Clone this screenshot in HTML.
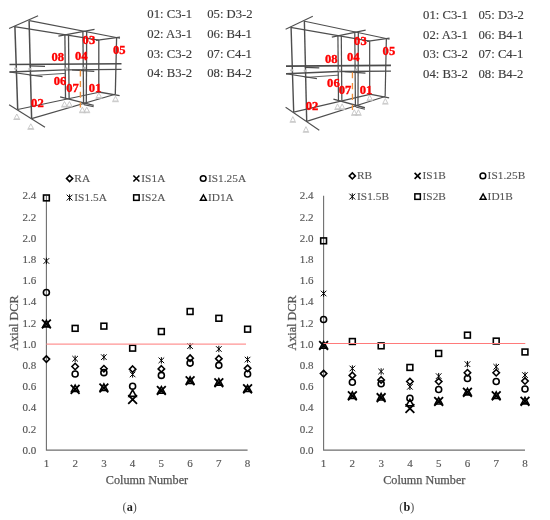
<!DOCTYPE html>
<html><head><meta charset="utf-8"><style>
html,body{margin:0;padding:0;background:#fff;}
body{width:550px;height:520px;overflow:hidden;}
svg{display:block;}
.t{font-family:'Liberation Serif', serif;font-size:11px;fill:#555555;stroke:#555555;stroke-width:0.15px;}
.lg{font-family:'Liberation Serif', serif;font-size:11.3px;fill:#555555;stroke:#555555;stroke-width:0.12px;letter-spacing:0.05px;}
.at{font-family:'Liberation Serif', serif;font-size:12.2px;fill:#555555;stroke:#555555;stroke-width:0.25px;}
.cap{font-family:'Liberation Serif', serif;font-size:12.2px;fill:#555;}
.tl{font-family:'Liberation Serif', serif;font-size:12.7px;fill:#3c3c3c;stroke:#3c3c3c;stroke-width:0.15px;letter-spacing:0px;}
.rl{font-family:'Liberation Serif', serif;font-size:12.6px;font-weight:bold;fill:#ff0000;stroke:#ff0000;stroke-width:0.35px;}
</style></head><body>
<svg width="550" height="520" viewBox="0 0 550 520">
<rect width="550" height="520" fill="#fff"/>
<g id="fa">
<path d="M9.1 28.5L38.1 15.8" stroke="#4e4e4e" stroke-width="1.15" fill="none"/>
<path d="M29.4 20.6L120.0 38.3" stroke="#4e4e4e" stroke-width="1.15" fill="none"/>
<path d="M14.3 26.6L98.8 40.1" stroke="#4e4e4e" stroke-width="1.15" fill="none"/>
<path d="M58.4 36.2L94.5 29.4" stroke="#4e4e4e" stroke-width="1.3" fill="none"/>
<path d="M96.0 40.4L120.0 37.2" stroke="#4e4e4e" stroke-width="1.3" fill="none"/>
<path d="M14.9 26.6L17.7 109.5" stroke="#4e4e4e" stroke-width="1.5" fill="none"/>
<path d="M29.1 20.4L31.6 118.6" stroke="#4e4e4e" stroke-width="1.5" fill="none"/>
<path d="M64.9 34.9L65.5 98.5" stroke="#4e4e4e" stroke-width="1.3" fill="none"/>
<path d="M68.5 34.5L69.1 98.0" stroke="#4e4e4e" stroke-width="1.3" fill="none"/>
<path d="M82.9 31.0L83.6 104.5" stroke="#4e4e4e" stroke-width="1.3" fill="none"/>
<path d="M86.7 31.0L86.3 103.5" stroke="#4e4e4e" stroke-width="1.3" fill="none"/>
<path d="M98.8 40.1L98.8 93.0" stroke="#4e4e4e" stroke-width="1.3" fill="none"/>
<path d="M116.6 37.7L115.3 94.3" stroke="#4e4e4e" stroke-width="1.3" fill="none"/>
<path d="M9.5 72.0L65.0 69.8" stroke="#4e4e4e" stroke-width="1.3" fill="none"/>
<path d="M65.0 69.8L121.5 69.4" stroke="#4e4e4e" stroke-width="1.3" fill="none"/>
<path d="M9.5 72.0L42.5 76.7" stroke="#4e4e4e" stroke-width="1.2" fill="none"/>
<path d="M29.5 75.7L65.0 73.4" stroke="#4e4e4e" stroke-width="0.9" fill="none"/>
<path d="M9.1 104.7L45.0 127.2" stroke="#4e4e4e" stroke-width="1.15" fill="none"/>
<path d="M17.7 109.5L99.0 92.2" stroke="#4e4e4e" stroke-width="1.15" fill="none"/>
<path d="M31.6 118.6L115.3 94.3" stroke="#4e4e4e" stroke-width="1.15" fill="none"/>
<path d="M98.8 92.0L119.6 95.6" stroke="#4e4e4e" stroke-width="1.3" fill="none"/>
<path d="M60.1 96.9L93.7 105.3" stroke="#4e4e4e" stroke-width="1.3" fill="none"/>
<path d="M84.0 104.6L93.7 106.8" stroke="#4e4e4e" stroke-width="1.1" fill="none"/>
<path d="M9.5 64.5L121.5 63.8" stroke="#4a4a4a" stroke-width="1.6" fill="none"/>
<path d="M29.5 65.8L45.0 66.3" stroke="#4a4a4a" stroke-width="1.2" fill="none"/>
<path d="M72.0 70.0L94.3 71.4" stroke="#4a4a4a" stroke-width="1.15" fill="none"/>
<path d="M16.8 114.0L19.4 118.8L14.2 118.8ZM13.4 119.5H20.2M30.8 123.8L33.4 128.6L28.2 128.6ZM27.4 129.3H34.2M64.5 101.5L67.1 106.3L61.9 106.3ZM61.1 107.0H67.9M69.4 101.5L72.0 106.3L66.8 106.3ZM66.0 107.0H72.8M82.4 107.2L85.0 112.0L79.8 112.0ZM79.0 112.7H85.8M86.8 107.2L89.4 112.0L84.2 112.0ZM83.4 112.7H90.2M98.9 92.8L101.5 97.6L96.3 97.6ZM95.5 98.3H102.3M115.5 96.2L118.1 101.0L112.9 101.0ZM112.1 101.7H118.9" stroke="#c4c4c4" stroke-width="0.9" fill="none"/>
<ellipse cx="15.6" cy="68.6" rx="1.6" ry="1.2" fill="#b8b8b8"/>
<ellipse cx="29.9" cy="69.0" rx="1.6" ry="1.2" fill="#b8b8b8"/>
<ellipse cx="66.5" cy="68.5" rx="1.6" ry="1.2" fill="#b8b8b8"/>
<ellipse cx="84.5" cy="68.0" rx="1.6" ry="1.2" fill="#b8b8b8"/>
<path d="M80.4 70.5V107.6" stroke="#f0903a" stroke-width="1.4" stroke-dasharray="6 4.6" fill="none"/>
</g>
<g transform="matrix(0.937,0,0,1.022,277.1,0.15)">
<path d="M9.1 28.5L38.1 15.8" stroke="#4e4e4e" stroke-width="1.15" fill="none"/>
<path d="M29.4 20.6L120.0 38.3" stroke="#4e4e4e" stroke-width="1.15" fill="none"/>
<path d="M14.3 26.6L98.8 40.1" stroke="#4e4e4e" stroke-width="1.15" fill="none"/>
<path d="M58.4 36.2L94.5 29.4" stroke="#4e4e4e" stroke-width="1.3" fill="none"/>
<path d="M96.0 40.4L120.0 37.2" stroke="#4e4e4e" stroke-width="1.3" fill="none"/>
<path d="M14.9 26.6L17.7 109.5" stroke="#4e4e4e" stroke-width="1.5" fill="none"/>
<path d="M29.1 20.4L31.6 118.6" stroke="#4e4e4e" stroke-width="1.5" fill="none"/>
<path d="M64.9 34.9L65.5 98.5" stroke="#4e4e4e" stroke-width="1.3" fill="none"/>
<path d="M68.5 34.5L69.1 98.0" stroke="#4e4e4e" stroke-width="1.3" fill="none"/>
<path d="M82.9 31.0L83.6 104.5" stroke="#4e4e4e" stroke-width="1.3" fill="none"/>
<path d="M86.7 31.0L86.3 103.5" stroke="#4e4e4e" stroke-width="1.3" fill="none"/>
<path d="M98.8 40.1L98.8 93.0" stroke="#4e4e4e" stroke-width="1.3" fill="none"/>
<path d="M116.6 37.7L115.3 94.3" stroke="#4e4e4e" stroke-width="1.3" fill="none"/>
<path d="M9.5 72.0L65.0 69.8" stroke="#4e4e4e" stroke-width="1.3" fill="none"/>
<path d="M65.0 69.8L121.5 69.4" stroke="#4e4e4e" stroke-width="1.3" fill="none"/>
<path d="M9.5 72.0L42.5 76.7" stroke="#4e4e4e" stroke-width="1.2" fill="none"/>
<path d="M29.5 75.7L65.0 73.4" stroke="#4e4e4e" stroke-width="0.9" fill="none"/>
<path d="M9.1 104.7L45.0 127.2" stroke="#4e4e4e" stroke-width="1.15" fill="none"/>
<path d="M17.7 109.5L99.0 92.2" stroke="#4e4e4e" stroke-width="1.15" fill="none"/>
<path d="M31.6 118.6L115.3 94.3" stroke="#4e4e4e" stroke-width="1.15" fill="none"/>
<path d="M98.8 92.0L119.6 95.6" stroke="#4e4e4e" stroke-width="1.3" fill="none"/>
<path d="M60.1 96.9L93.7 105.3" stroke="#4e4e4e" stroke-width="1.3" fill="none"/>
<path d="M84.0 104.6L93.7 106.8" stroke="#4e4e4e" stroke-width="1.1" fill="none"/>
<path d="M9.5 64.5L121.5 63.8" stroke="#4a4a4a" stroke-width="1.6" fill="none"/>
<path d="M29.5 65.8L45.0 66.3" stroke="#4a4a4a" stroke-width="1.2" fill="none"/>
<path d="M72.0 70.0L94.3 71.4" stroke="#4a4a4a" stroke-width="1.15" fill="none"/>
<path d="M16.8 114.0L19.4 118.8L14.2 118.8ZM13.4 119.5H20.2M30.8 123.8L33.4 128.6L28.2 128.6ZM27.4 129.3H34.2M64.5 101.5L67.1 106.3L61.9 106.3ZM61.1 107.0H67.9M69.4 101.5L72.0 106.3L66.8 106.3ZM66.0 107.0H72.8M82.4 107.2L85.0 112.0L79.8 112.0ZM79.0 112.7H85.8M86.8 107.2L89.4 112.0L84.2 112.0ZM83.4 112.7H90.2M98.9 92.8L101.5 97.6L96.3 97.6ZM95.5 98.3H102.3M115.5 96.2L118.1 101.0L112.9 101.0ZM112.1 101.7H118.9" stroke="#c4c4c4" stroke-width="0.9" fill="none"/>
<ellipse cx="15.6" cy="68.6" rx="1.6" ry="1.2" fill="#b8b8b8"/>
<ellipse cx="29.9" cy="69.0" rx="1.6" ry="1.2" fill="#b8b8b8"/>
<ellipse cx="66.5" cy="68.5" rx="1.6" ry="1.2" fill="#b8b8b8"/>
<ellipse cx="84.5" cy="68.0" rx="1.6" ry="1.2" fill="#b8b8b8"/>
<path d="M80.4 70.5V107.6" stroke="#f0903a" stroke-width="1.4" stroke-dasharray="6 4.6" fill="none"/>
</g>
<text x="88.9" y="44.1" text-anchor="middle" class="rl">03</text>
<text x="119.3" y="54.1" text-anchor="middle" class="rl">05</text>
<text x="57.8" y="61.4" text-anchor="middle" class="rl">08</text>
<text x="81.2" y="59.7" text-anchor="middle" class="rl">04</text>
<text x="60.1" y="84.6" text-anchor="middle" class="rl">06</text>
<text x="72.5" y="91.5" text-anchor="middle" class="rl">07</text>
<text x="95.0" y="91.5" text-anchor="middle" class="rl">01</text>
<text x="37.4" y="107.3" text-anchor="middle" class="rl">02</text>
<text x="360.4" y="45.1" text-anchor="middle" class="rl">03</text>
<text x="388.9" y="55.4" text-anchor="middle" class="rl">05</text>
<text x="331.3" y="62.8" text-anchor="middle" class="rl">08</text>
<text x="353.2" y="61.1" text-anchor="middle" class="rl">04</text>
<text x="333.4" y="86.5" text-anchor="middle" class="rl">06</text>
<text x="345.0" y="93.6" text-anchor="middle" class="rl">07</text>
<text x="366.1" y="93.6" text-anchor="middle" class="rl">01</text>
<text x="312.1" y="109.7" text-anchor="middle" class="rl">02</text>
<text x="147.30" y="18.30" class="tl">01: C3-1</text>
<text x="207.20" y="18.30" class="tl">05: D3-2</text>
<text x="147.30" y="37.97" class="tl">02: A3-1</text>
<text x="207.20" y="37.97" class="tl">06: B4-1</text>
<text x="147.30" y="57.64" class="tl">03: C3-2</text>
<text x="207.20" y="57.64" class="tl">07: C4-1</text>
<text x="147.30" y="77.31" class="tl">04: B3-2</text>
<text x="207.20" y="77.31" class="tl">08: B4-2</text>
<text x="423.10" y="18.90" class="tl">01: C3-1</text>
<text x="478.50" y="18.90" class="tl">05: D3-2</text>
<text x="423.10" y="38.57" class="tl">02: A3-1</text>
<text x="478.50" y="38.57" class="tl">06: B4-1</text>
<text x="423.10" y="58.24" class="tl">03: C3-2</text>
<text x="478.50" y="58.24" class="tl">07: C4-1</text>
<text x="423.10" y="77.91" class="tl">04: B3-2</text>
<text x="478.50" y="77.91" class="tl">08: B4-2</text>
<text x="36.20" y="453.70" text-anchor="end" class="t">0.0</text>
<text x="36.20" y="432.51" text-anchor="end" class="t">0.2</text>
<text x="36.20" y="411.32" text-anchor="end" class="t">0.4</text>
<text x="36.20" y="390.12" text-anchor="end" class="t">0.6</text>
<text x="36.20" y="368.93" text-anchor="end" class="t">0.8</text>
<text x="36.20" y="347.74" text-anchor="end" class="t">1.0</text>
<text x="36.20" y="326.55" text-anchor="end" class="t">1.2</text>
<text x="36.20" y="305.36" text-anchor="end" class="t">1.4</text>
<text x="36.20" y="284.16" text-anchor="end" class="t">1.6</text>
<text x="36.20" y="262.97" text-anchor="end" class="t">1.8</text>
<text x="36.20" y="241.78" text-anchor="end" class="t">2.0</text>
<text x="36.20" y="220.59" text-anchor="end" class="t">2.2</text>
<text x="36.20" y="199.40" text-anchor="end" class="t">2.4</text>
<text x="46.40" y="466.7" text-anchor="middle" class="t">1</text>
<text x="75.14" y="466.7" text-anchor="middle" class="t">2</text>
<text x="103.88" y="466.7" text-anchor="middle" class="t">3</text>
<text x="132.62" y="466.7" text-anchor="middle" class="t">4</text>
<text x="161.36" y="466.7" text-anchor="middle" class="t">5</text>
<text x="190.10" y="466.7" text-anchor="middle" class="t">6</text>
<text x="218.84" y="466.7" text-anchor="middle" class="t">7</text>
<text x="247.58" y="466.7" text-anchor="middle" class="t">8</text>
<path d="M46.40 195.80V450.6M45.90 450.1H247.58" fill="none" stroke="#6e6e6e" stroke-width="1.1"/>
<text x="146.99" y="484.4" text-anchor="middle" class="at">Column Number</text>
<text transform="translate(17.70,323) rotate(-90)" x="0" y="0" text-anchor="middle" class="at">Axial DCR</text>
<path d="M46.40 355.88L49.60 359.08L46.40 362.28L43.20 359.08Z" fill="none" stroke="#000" stroke-width="1.6"/>
<path d="M42.00 319.61L50.80 328.41M50.80 319.61L42.00 328.41" fill="none" stroke="#000" stroke-width="1.8"/>
<circle cx="46.40" cy="292.54" r="3.0" fill="none" stroke="#000" stroke-width="1.6"/>
<path d="M43.60 258.16L49.20 263.76M49.20 258.16L43.60 263.76M46.40 257.76L46.40 264.16" fill="none" stroke="#000" stroke-width="1.0"/>
<rect x="43.50" y="195.02" width="5.80" height="5.80" fill="none" stroke="#000" stroke-width="1.6"/>
<path d="M46.40 320.41L50.00 326.89L42.80 326.89Z" fill="none" stroke="#000" stroke-width="1.6" stroke-linejoin="miter"/>
<path d="M75.14 363.30L78.34 366.50L75.14 369.70L71.94 366.50Z" fill="none" stroke="#000" stroke-width="1.6"/>
<path d="M70.74 384.98L79.54 393.78M79.54 384.98L70.74 393.78" fill="none" stroke="#000" stroke-width="1.8"/>
<circle cx="75.14" cy="374.02" r="3.0" fill="none" stroke="#000" stroke-width="1.6"/>
<path d="M72.34 355.96L77.94 361.56M77.94 355.96L72.34 361.56M75.14 355.56L75.14 361.96" fill="none" stroke="#000" stroke-width="1.0"/>
<rect x="72.24" y="325.45" width="5.80" height="5.80" fill="none" stroke="#000" stroke-width="1.6"/>
<path d="M75.14 385.04L78.74 391.52L71.54 391.52Z" fill="none" stroke="#000" stroke-width="1.6" stroke-linejoin="miter"/>
<path d="M103.88 365.52L107.08 368.72L103.88 371.92L100.68 368.72Z" fill="none" stroke="#000" stroke-width="1.6"/>
<path d="M99.48 383.61L108.28 392.41M108.28 383.61L99.48 392.41" fill="none" stroke="#000" stroke-width="1.8"/>
<circle cx="103.88" cy="372.64" r="3.0" fill="none" stroke="#000" stroke-width="1.6"/>
<path d="M101.08 354.37L106.68 359.97M106.68 354.37L101.08 359.97M103.88 353.97L103.88 360.37" fill="none" stroke="#000" stroke-width="1.0"/>
<rect x="100.98" y="323.23" width="5.80" height="5.80" fill="none" stroke="#000" stroke-width="1.6"/>
<path d="M103.88 383.98L107.48 390.46L100.28 390.46Z" fill="none" stroke="#000" stroke-width="1.6" stroke-linejoin="miter"/>
<path d="M132.62 365.95L135.82 369.15L132.62 372.35L129.42 369.15Z" fill="none" stroke="#000" stroke-width="1.6"/>
<path d="M128.22 395.05L137.02 403.85M137.02 395.05L128.22 403.85" fill="none" stroke="#000" stroke-width="1.8"/>
<circle cx="132.62" cy="386.21" r="3.0" fill="none" stroke="#000" stroke-width="1.6"/>
<path d="M129.82 371.64L135.42 377.24M135.42 371.64L129.82 377.24M132.62 371.24L132.62 377.64" fill="none" stroke="#000" stroke-width="1.0"/>
<rect x="129.72" y="345.27" width="5.80" height="5.80" fill="none" stroke="#000" stroke-width="1.6"/>
<path d="M132.62 389.92L136.22 396.40L129.02 396.40Z" fill="none" stroke="#000" stroke-width="1.6" stroke-linejoin="miter"/>
<path d="M161.36 365.73L164.56 368.93L161.36 372.13L158.16 368.93Z" fill="none" stroke="#000" stroke-width="1.6"/>
<path d="M156.96 386.15L165.76 394.95M165.76 386.15L156.96 394.95" fill="none" stroke="#000" stroke-width="1.8"/>
<circle cx="161.36" cy="375.40" r="3.0" fill="none" stroke="#000" stroke-width="1.6"/>
<path d="M158.56 357.55L164.16 363.15M164.16 357.55L158.56 363.15M161.36 357.15L161.36 363.55" fill="none" stroke="#000" stroke-width="1.0"/>
<rect x="158.46" y="328.63" width="5.80" height="5.80" fill="none" stroke="#000" stroke-width="1.6"/>
<path d="M161.36 386.63L164.96 393.11L157.76 393.11Z" fill="none" stroke="#000" stroke-width="1.6" stroke-linejoin="miter"/>
<path d="M190.10 354.93L193.30 358.13L190.10 361.33L186.90 358.13Z" fill="none" stroke="#000" stroke-width="1.6"/>
<path d="M185.70 376.40L194.50 385.20M194.50 376.40L185.70 385.20" fill="none" stroke="#000" stroke-width="1.8"/>
<circle cx="190.10" cy="363.11" r="3.0" fill="none" stroke="#000" stroke-width="1.6"/>
<path d="M187.30 343.35L192.90 348.95M192.90 343.35L187.30 348.95M190.10 342.95L190.10 349.35" fill="none" stroke="#000" stroke-width="1.0"/>
<rect x="187.20" y="308.60" width="5.80" height="5.80" fill="none" stroke="#000" stroke-width="1.6"/>
<path d="M190.10 376.88L193.70 383.36L186.50 383.36Z" fill="none" stroke="#000" stroke-width="1.6" stroke-linejoin="miter"/>
<path d="M218.84 355.46L222.04 358.66L218.84 361.86L215.64 358.66Z" fill="none" stroke="#000" stroke-width="1.6"/>
<path d="M214.44 378.31L223.24 387.11M223.24 378.31L214.44 387.11" fill="none" stroke="#000" stroke-width="1.8"/>
<circle cx="218.84" cy="365.33" r="3.0" fill="none" stroke="#000" stroke-width="1.6"/>
<path d="M216.04 346.21L221.64 351.81M221.64 346.21L216.04 351.81M218.84 345.81L218.84 352.21" fill="none" stroke="#000" stroke-width="1.0"/>
<rect x="215.94" y="315.39" width="5.80" height="5.80" fill="none" stroke="#000" stroke-width="1.6"/>
<path d="M218.84 378.69L222.44 385.17L215.24 385.17Z" fill="none" stroke="#000" stroke-width="1.6" stroke-linejoin="miter"/>
<path d="M247.58 365.10L250.78 368.30L247.58 371.50L244.38 368.30Z" fill="none" stroke="#000" stroke-width="1.6"/>
<path d="M243.18 384.46L251.98 393.26M251.98 384.46L243.18 393.26" fill="none" stroke="#000" stroke-width="1.8"/>
<circle cx="247.58" cy="374.02" r="3.0" fill="none" stroke="#000" stroke-width="1.6"/>
<path d="M244.78 356.81L250.38 362.41M250.38 356.81L244.78 362.41M247.58 356.41L247.58 362.81" fill="none" stroke="#000" stroke-width="1.0"/>
<rect x="244.68" y="326.30" width="5.80" height="5.80" fill="none" stroke="#000" stroke-width="1.6"/>
<path d="M247.58 385.04L251.18 391.52L243.98 391.52Z" fill="none" stroke="#000" stroke-width="1.6" stroke-linejoin="miter"/>
<path d="M46.40 344.1H245.98" stroke="#ff9494" stroke-width="1.3" fill="none"/>
<path d="M69.60 175.45L72.65 178.50L69.60 181.55L66.55 178.50Z" fill="none" stroke="#000" stroke-width="1.6"/>
<text x="74.30" y="181.90" class="lg">RA</text>
<path d="M133.40 175.50L139.40 181.50M139.40 175.50L133.40 181.50" fill="none" stroke="#000" stroke-width="1.6"/>
<text x="141.30" y="181.90" class="lg">IS1A</text>
<circle cx="203.20" cy="178.50" r="2.85" fill="none" stroke="#000" stroke-width="1.5"/>
<text x="207.90" y="181.90" class="lg">IS1.25A</text>
<path d="M66.70 194.70L72.50 200.50M72.50 194.70L66.70 200.50M69.60 194.30L69.60 200.90" fill="none" stroke="#000" stroke-width="1.0"/>
<text x="74.30" y="201.00" class="lg">IS1.5A</text>
<rect x="133.65" y="194.85" width="5.50" height="5.50" fill="none" stroke="#000" stroke-width="1.5"/>
<text x="141.30" y="201.00" class="lg">IS2A</text>
<path d="M203.40 194.90L206.40 200.30L200.40 200.30Z" fill="none" stroke="#000" stroke-width="1.4" stroke-linejoin="miter"/>
<text x="207.90" y="201.00" class="lg">ID1A</text>
<text x="313.40" y="453.70" text-anchor="end" class="t">0.0</text>
<text x="313.40" y="432.51" text-anchor="end" class="t">0.2</text>
<text x="313.40" y="411.32" text-anchor="end" class="t">0.4</text>
<text x="313.40" y="390.12" text-anchor="end" class="t">0.6</text>
<text x="313.40" y="368.93" text-anchor="end" class="t">0.8</text>
<text x="313.40" y="347.74" text-anchor="end" class="t">1.0</text>
<text x="313.40" y="326.55" text-anchor="end" class="t">1.2</text>
<text x="313.40" y="305.36" text-anchor="end" class="t">1.4</text>
<text x="313.40" y="284.16" text-anchor="end" class="t">1.6</text>
<text x="313.40" y="262.97" text-anchor="end" class="t">1.8</text>
<text x="313.40" y="241.78" text-anchor="end" class="t">2.0</text>
<text x="313.40" y="220.59" text-anchor="end" class="t">2.2</text>
<text x="313.40" y="199.40" text-anchor="end" class="t">2.4</text>
<text x="323.60" y="466.7" text-anchor="middle" class="t">1</text>
<text x="352.37" y="466.7" text-anchor="middle" class="t">2</text>
<text x="381.14" y="466.7" text-anchor="middle" class="t">3</text>
<text x="409.91" y="466.7" text-anchor="middle" class="t">4</text>
<text x="438.68" y="466.7" text-anchor="middle" class="t">5</text>
<text x="467.45" y="466.7" text-anchor="middle" class="t">6</text>
<text x="496.22" y="466.7" text-anchor="middle" class="t">7</text>
<text x="524.99" y="466.7" text-anchor="middle" class="t">8</text>
<path d="M323.60 195.80V450.6M323.10 450.1H524.99" fill="none" stroke="#6e6e6e" stroke-width="1.1"/>
<text x="424.30" y="484.4" text-anchor="middle" class="at">Column Number</text>
<text transform="translate(295.60,323) rotate(-90)" x="0" y="0" text-anchor="middle" class="at">Axial DCR</text>
<path d="M323.60 370.40L326.80 373.60L323.60 376.80L320.40 373.60Z" fill="none" stroke="#000" stroke-width="1.6"/>
<path d="M319.20 341.12L328.00 349.92M328.00 341.12L319.20 349.92" fill="none" stroke="#000" stroke-width="1.8"/>
<circle cx="323.60" cy="319.45" r="3.0" fill="none" stroke="#000" stroke-width="1.6"/>
<path d="M320.80 290.69L326.40 296.29M326.40 290.69L320.80 296.29M323.60 290.29L323.60 296.69" fill="none" stroke="#000" stroke-width="1.0"/>
<rect x="320.70" y="237.93" width="5.80" height="5.80" fill="none" stroke="#000" stroke-width="1.6"/>
<path d="M323.60 341.60L327.20 348.08L320.00 348.08Z" fill="none" stroke="#000" stroke-width="1.6" stroke-linejoin="miter"/>
<path d="M352.37 372.20L355.57 375.40L352.37 378.60L349.17 375.40Z" fill="none" stroke="#000" stroke-width="1.6"/>
<path d="M347.97 391.45L356.77 400.25M356.77 391.45L347.97 400.25" fill="none" stroke="#000" stroke-width="1.8"/>
<circle cx="352.37" cy="382.29" r="3.0" fill="none" stroke="#000" stroke-width="1.6"/>
<path d="M349.57 365.71L355.17 371.31M355.17 365.71L349.57 371.31M352.37 365.31L352.37 371.71" fill="none" stroke="#000" stroke-width="1.0"/>
<rect x="349.47" y="338.59" width="5.80" height="5.80" fill="none" stroke="#000" stroke-width="1.6"/>
<path d="M352.37 391.93L355.97 398.41L348.77 398.41Z" fill="none" stroke="#000" stroke-width="1.6" stroke-linejoin="miter"/>
<path d="M381.14 376.75L384.34 379.95L381.14 383.15L377.94 379.95Z" fill="none" stroke="#000" stroke-width="1.6"/>
<path d="M376.74 393.25L385.54 402.05M385.54 393.25L376.74 402.05" fill="none" stroke="#000" stroke-width="1.8"/>
<circle cx="381.14" cy="383.77" r="3.0" fill="none" stroke="#000" stroke-width="1.6"/>
<path d="M378.34 368.68L383.94 374.28M383.94 368.68L378.34 374.28M381.14 368.28L381.14 374.68" fill="none" stroke="#000" stroke-width="1.0"/>
<rect x="378.24" y="342.94" width="5.80" height="5.80" fill="none" stroke="#000" stroke-width="1.6"/>
<path d="M381.14 393.52L384.74 400.00L377.54 400.00Z" fill="none" stroke="#000" stroke-width="1.6" stroke-linejoin="miter"/>
<path d="M409.91 378.34L413.11 381.54L409.91 384.74L406.71 381.54Z" fill="none" stroke="#000" stroke-width="1.6"/>
<path d="M405.51 404.06L414.31 412.86M414.31 404.06L405.51 412.86" fill="none" stroke="#000" stroke-width="1.8"/>
<circle cx="409.91" cy="398.18" r="3.0" fill="none" stroke="#000" stroke-width="1.6"/>
<path d="M407.11 384.04L412.71 389.64M412.71 384.04L407.11 389.64M409.91 383.64L409.91 390.04" fill="none" stroke="#000" stroke-width="1.0"/>
<rect x="407.01" y="364.55" width="5.80" height="5.80" fill="none" stroke="#000" stroke-width="1.6"/>
<path d="M409.91 399.35L413.51 405.83L406.31 405.83Z" fill="none" stroke="#000" stroke-width="1.6" stroke-linejoin="miter"/>
<path d="M438.68 378.34L441.88 381.54L438.68 384.74L435.48 381.54Z" fill="none" stroke="#000" stroke-width="1.6"/>
<path d="M434.28 397.06L443.08 405.86M443.08 397.06L434.28 405.86" fill="none" stroke="#000" stroke-width="1.8"/>
<circle cx="438.68" cy="389.49" r="3.0" fill="none" stroke="#000" stroke-width="1.6"/>
<path d="M435.88 373.34L441.48 378.94M441.48 373.34L435.88 378.94M438.68 372.94L438.68 379.34" fill="none" stroke="#000" stroke-width="1.0"/>
<rect x="435.78" y="350.56" width="5.80" height="5.80" fill="none" stroke="#000" stroke-width="1.6"/>
<path d="M438.68 397.55L442.28 404.03L435.08 404.03Z" fill="none" stroke="#000" stroke-width="1.6" stroke-linejoin="miter"/>
<path d="M467.45 369.55L470.65 372.75L467.45 375.95L464.25 372.75Z" fill="none" stroke="#000" stroke-width="1.6"/>
<path d="M463.05 387.95L471.85 396.75M471.85 387.95L463.05 396.75" fill="none" stroke="#000" stroke-width="1.8"/>
<circle cx="467.45" cy="378.47" r="3.0" fill="none" stroke="#000" stroke-width="1.6"/>
<path d="M464.65 361.37L470.25 366.97M470.25 361.37L464.65 366.97M467.45 360.97L467.45 367.37" fill="none" stroke="#000" stroke-width="1.0"/>
<rect x="464.55" y="332.23" width="5.80" height="5.80" fill="none" stroke="#000" stroke-width="1.6"/>
<path d="M467.45 388.43L471.05 394.91L463.85 394.91Z" fill="none" stroke="#000" stroke-width="1.6" stroke-linejoin="miter"/>
<path d="M496.22 369.55L499.42 372.75L496.22 375.95L493.02 372.75Z" fill="none" stroke="#000" stroke-width="1.6"/>
<path d="M491.82 391.45L500.62 400.25M500.62 391.45L491.82 400.25" fill="none" stroke="#000" stroke-width="1.8"/>
<circle cx="496.22" cy="381.54" r="3.0" fill="none" stroke="#000" stroke-width="1.6"/>
<path d="M493.42 364.02L499.02 369.62M499.02 364.02L493.42 369.62M496.22 363.62L496.22 370.02" fill="none" stroke="#000" stroke-width="1.0"/>
<rect x="493.32" y="338.17" width="5.80" height="5.80" fill="none" stroke="#000" stroke-width="1.6"/>
<path d="M496.22 391.93L499.82 398.41L492.62 398.41Z" fill="none" stroke="#000" stroke-width="1.6" stroke-linejoin="miter"/>
<path d="M524.99 377.81L528.19 381.01L524.99 384.21L521.79 381.01Z" fill="none" stroke="#000" stroke-width="1.6"/>
<path d="M520.59 396.96L529.39 405.76M529.39 396.96L520.59 405.76" fill="none" stroke="#000" stroke-width="1.8"/>
<circle cx="524.99" cy="388.96" r="3.0" fill="none" stroke="#000" stroke-width="1.6"/>
<path d="M522.19 372.28L527.79 377.88M527.79 372.28L522.19 377.88M524.99 371.88L524.99 378.28" fill="none" stroke="#000" stroke-width="1.0"/>
<rect x="522.09" y="349.08" width="5.80" height="5.80" fill="none" stroke="#000" stroke-width="1.6"/>
<path d="M524.99 397.44L528.59 403.92L521.39 403.92Z" fill="none" stroke="#000" stroke-width="1.6" stroke-linejoin="miter"/>
<path d="M323.60 343.5H525.29" stroke="#ff7a7a" stroke-width="1" fill="none"/>
<path d="M352.30 172.85L355.35 175.90L352.30 178.95L349.25 175.90Z" fill="none" stroke="#000" stroke-width="1.6"/>
<text x="357.00" y="179.30" class="lg">RB</text>
<path d="M414.60 172.90L420.60 178.90M420.60 172.90L414.60 178.90" fill="none" stroke="#000" stroke-width="1.6"/>
<text x="422.50" y="179.30" class="lg">IS1B</text>
<circle cx="482.90" cy="175.90" r="2.85" fill="none" stroke="#000" stroke-width="1.5"/>
<text x="487.60" y="179.30" class="lg">IS1.25B</text>
<path d="M349.40 193.70L355.20 199.50M355.20 193.70L349.40 199.50M352.30 193.30L352.30 199.90" fill="none" stroke="#000" stroke-width="1.0"/>
<text x="357.00" y="200.00" class="lg">IS1.5B</text>
<rect x="414.85" y="193.85" width="5.50" height="5.50" fill="none" stroke="#000" stroke-width="1.5"/>
<text x="422.50" y="200.00" class="lg">IS2B</text>
<path d="M483.10 193.90L486.10 199.30L480.10 199.30Z" fill="none" stroke="#000" stroke-width="1.4" stroke-linejoin="miter"/>
<text x="487.60" y="200.00" class="lg">ID1B</text>
<text x="129.70" y="511" text-anchor="middle" class="cap">(<tspan font-weight="bold" fill="#1e1e1e">a</tspan>)</text>
<text x="406.80" y="511" text-anchor="middle" class="cap">(<tspan font-weight="bold" fill="#1e1e1e">b</tspan>)</text>
</svg>
</body></html>
